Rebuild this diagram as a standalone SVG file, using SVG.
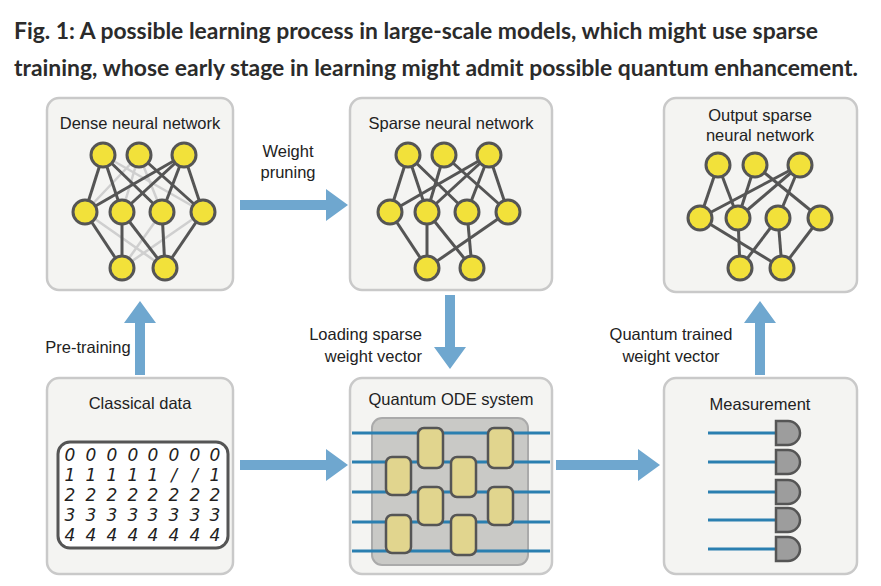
<svg xmlns="http://www.w3.org/2000/svg" width="881" height="586" viewBox="0 0 881 586">
<style>
.box{fill:#f4f4f2;stroke:#c9c9c9;stroke-width:2.5}
.lbl{font-family:"Liberation Sans",Arial,sans-serif;font-size:16.5px;fill:#222}
.t{font-family:Lato,"Liberation Sans",sans-serif;font-weight:bold;font-size:22.5px;fill:#2b2b2b}
.n{fill:#f2e13a;stroke:#555;stroke-width:3}
.e{stroke:#555;stroke-width:3}
.l{stroke:#cfcfcf;stroke-width:2.5}
.w{stroke:#2a7fb0;stroke-width:3}
.g{fill:#e1d58e;stroke:#555;stroke-width:2.5}
.m{fill:#9d9d9d;stroke:#555;stroke-width:2.5}
.d{font-family:"DejaVu Sans",sans-serif;font-size:17px;fill:#222;font-style:italic}
.arr{fill:#6fa7cf}
</style>
<rect width="881" height="586" fill="#fff"/>
<text class="t" x="14" y="39" textLength="804" lengthAdjust="spacingAndGlyphs">Fig. 1: A possible learning process in large-scale models, which might use sparse</text>
<text class="t" x="14" y="76" textLength="844" lengthAdjust="spacingAndGlyphs">training, whose early stage in learning might admit possible quantum enhancement.</text>
<g id="connectors">
<path class="arr" d="M240 200h86v-11l22 16-22 16v-11h-86z"/>
<path class="arr" d="M240 460h86v-11l22 16-22 16v-11h-86z"/>
<path class="arr" d="M556 460h82v-11l22 16-22 16v-11h-82z"/>
<path class="arr" d="M135 375v-52h-11l16-22 16 22h-11v52z"/>
<path class="arr" d="M755 375v-52h-11l16-22 16 22h-11v52z"/>
<path class="arr" d="M445 295v52h-11l16 22 16-22h-11v-52z"/>
<text class="lbl" x="288" y="157" text-anchor="middle">Weight</text>
<text class="lbl" x="288" y="178" text-anchor="middle">pruning</text>
<text class="lbl" x="88" y="353" text-anchor="middle">Pre-training</text>
<text class="lbl" x="422" y="340" text-anchor="end">Loading sparse</text>
<text class="lbl" x="422" y="362" text-anchor="end">weight vector</text>
<text class="lbl" x="671" y="340" text-anchor="middle">Quantum trained</text>
<text class="lbl" x="671" y="362" text-anchor="middle">weight vector</text>
</g>
<g id="dense">
<rect class="box" x="47" y="98" width="186" height="192" rx="12"/>
<text class="lbl" x="140" y="129" text-anchor="middle">Dense neural network</text>
<g class="l">
<line x1="139" y1="155" x2="85" y2="212"/><line x1="139" y1="155" x2="162" y2="212"/><line x1="103" y1="155" x2="203" y2="212"/><line x1="184" y1="155" x2="122" y2="212"/><line x1="139" y1="155" x2="122" y2="212"/>
<line x1="85" y1="212" x2="165" y2="268"/><line x1="203" y1="212" x2="122" y2="268"/><line x1="162" y1="212" x2="122" y2="268"/>
</g>
<g class="e">
<line x1="103" y1="155" x2="85" y2="212"/><line x1="103" y1="155" x2="122" y2="212"/><line x1="103" y1="155" x2="162" y2="212"/>
<line x1="139" y1="155" x2="203" y2="212"/><line x1="184" y1="155" x2="85" y2="212"/><line x1="184" y1="155" x2="122" y2="212"/><line x1="184" y1="155" x2="162" y2="212"/><line x1="184" y1="155" x2="203" y2="212"/>
<line x1="85" y1="212" x2="122" y2="268"/><line x1="122" y1="212" x2="122" y2="268"/><line x1="122" y1="212" x2="165" y2="268"/><line x1="162" y1="212" x2="165" y2="268"/><line x1="203" y1="212" x2="165" y2="268"/>
</g>
<circle class="n" cx="103" cy="155" r="12"/><circle class="n" cx="139" cy="155" r="12"/><circle class="n" cx="184" cy="155" r="12"/>
<circle class="n" cx="85" cy="212" r="12"/><circle class="n" cx="122" cy="212" r="12"/><circle class="n" cx="162" cy="212" r="12"/><circle class="n" cx="203" cy="212" r="12"/>
<circle class="n" cx="122" cy="268" r="12"/><circle class="n" cx="165" cy="268" r="12"/>
</g>
<g id="sparse">
<rect class="box" x="350" y="98" width="202" height="192" rx="12"/>
<text class="lbl" x="451" y="129" text-anchor="middle">Sparse neural network</text>
<g class="e">
<line x1="408" y1="155" x2="390" y2="212"/><line x1="408" y1="155" x2="427" y2="212"/><line x1="408" y1="155" x2="467" y2="212"/>
<line x1="444" y1="155" x2="427" y2="212"/>
<line x1="489" y1="155" x2="390" y2="212"/><line x1="489" y1="155" x2="427" y2="212"/><line x1="489" y1="155" x2="467" y2="212"/><line x1="489" y1="155" x2="508" y2="212"/><line x1="444" y1="155" x2="508" y2="212"/>
<line x1="390" y1="212" x2="427" y2="268"/><line x1="427" y1="212" x2="427" y2="268"/><line x1="427" y1="212" x2="472" y2="268"/><line x1="467" y1="212" x2="472" y2="268"/><line x1="508" y1="212" x2="427" y2="268"/>
</g>
<circle class="n" cx="408" cy="155" r="12"/><circle class="n" cx="444" cy="155" r="12"/><circle class="n" cx="489" cy="155" r="12"/>
<circle class="n" cx="390" cy="212" r="12"/><circle class="n" cx="427" cy="212" r="12"/><circle class="n" cx="467" cy="212" r="12"/><circle class="n" cx="508" cy="212" r="12"/>
<circle class="n" cx="427" cy="268" r="12"/><circle class="n" cx="472" cy="268" r="12"/>
</g>
<g id="output">
<rect class="box" x="664" y="98" width="193" height="194" rx="12"/>
<text class="lbl" x="760" y="121" text-anchor="middle">Output sparse</text>
<text class="lbl" x="760" y="141" text-anchor="middle">neural network</text>
<g class="e">
<line x1="718" y1="165" x2="700" y2="218"/><line x1="718" y1="165" x2="738" y2="218"/>
<line x1="755" y1="165" x2="738" y2="218"/><line x1="755" y1="165" x2="820" y2="218"/>
<line x1="800" y1="165" x2="700" y2="218"/><line x1="800" y1="165" x2="738" y2="218"/><line x1="800" y1="165" x2="778" y2="218"/>
<line x1="700" y1="218" x2="782" y2="268"/><line x1="738" y1="218" x2="740" y2="268"/><line x1="778" y1="218" x2="740" y2="268"/><line x1="778" y1="218" x2="782" y2="268"/><line x1="820" y1="218" x2="782" y2="268"/>
</g>
<circle class="n" cx="718" cy="165" r="12"/><circle class="n" cx="755" cy="165" r="12"/><circle class="n" cx="800" cy="165" r="12"/>
<circle class="n" cx="700" cy="218" r="12"/><circle class="n" cx="738" cy="218" r="12"/><circle class="n" cx="778" cy="218" r="12"/><circle class="n" cx="820" cy="218" r="12"/>
<circle class="n" cx="740" cy="268" r="12"/><circle class="n" cx="782" cy="268" r="12"/>
</g>
<g id="classical">
<rect class="box" x="47" y="378" width="186" height="196" rx="12"/>
<text class="lbl" x="140" y="409" text-anchor="middle">Classical data</text>
<rect x="58" y="442" width="170" height="106" rx="12" fill="#fff" stroke="#555" stroke-width="3"/>
<g class="d" text-anchor="middle">
<text y="461"><tspan x="70">0</tspan><tspan x="91">0</tspan><tspan x="112">0</tspan><tspan x="133">0</tspan><tspan x="153">0</tspan><tspan x="174">0</tspan><tspan x="195">0</tspan><tspan x="215">0</tspan></text>
<text y="481"><tspan x="70">1</tspan><tspan x="91">1</tspan><tspan x="112">1</tspan><tspan x="133">1</tspan><tspan x="153">1</tspan><tspan x="174">/</tspan><tspan x="195">/</tspan><tspan x="215">1</tspan></text>
<text y="501"><tspan x="70">2</tspan><tspan x="91">2</tspan><tspan x="112">2</tspan><tspan x="133">2</tspan><tspan x="153">2</tspan><tspan x="174">2</tspan><tspan x="195">2</tspan><tspan x="215">2</tspan></text>
<text y="521"><tspan x="70">3</tspan><tspan x="91">3</tspan><tspan x="112">3</tspan><tspan x="133">3</tspan><tspan x="153">3</tspan><tspan x="174">3</tspan><tspan x="195">3</tspan><tspan x="215">3</tspan></text>
<text y="541"><tspan x="70">4</tspan><tspan x="91">4</tspan><tspan x="112">4</tspan><tspan x="133">4</tspan><tspan x="153">4</tspan><tspan x="174">4</tspan><tspan x="195">4</tspan><tspan x="215">4</tspan></text>
</g>
</g>
<g id="quantum">
<rect class="box" x="350" y="378" width="202" height="196" rx="12"/>
<text class="lbl" x="451" y="405" text-anchor="middle">Quantum ODE system</text>
<rect x="372" y="418" width="156" height="147" rx="10" fill="#c9c9c6" stroke="#aaa" stroke-width="2"/>
<g class="w">
<line x1="352" y1="433" x2="550" y2="433"/><line x1="352" y1="462" x2="550" y2="462"/><line x1="352" y1="492" x2="550" y2="492"/><line x1="352" y1="522" x2="550" y2="522"/><line x1="352" y1="551" x2="550" y2="551"/>
</g>
<rect class="g" x="386" y="457" width="25" height="38" rx="6"/>
<rect class="g" x="386" y="515" width="25" height="38" rx="6"/>
<rect class="g" x="418" y="428" width="25" height="40" rx="6"/>
<rect class="g" x="418" y="487" width="25" height="38" rx="6"/>
<rect class="g" x="451" y="457" width="25" height="40" rx="6"/>
<rect class="g" x="451" y="515" width="25" height="40" rx="6"/>
<rect class="g" x="488" y="428" width="25" height="40" rx="6"/>
<rect class="g" x="488" y="487" width="25" height="38" rx="6"/>
</g>
<g id="measurement">
<rect class="box" x="664" y="378" width="193" height="196" rx="12"/>
<text class="lbl" x="760" y="410" text-anchor="middle">Measurement</text>
<g class="w">
<line x1="708" y1="433" x2="776" y2="433"/><line x1="708" y1="462" x2="776" y2="462"/><line x1="708" y1="492" x2="776" y2="492"/><line x1="708" y1="520" x2="776" y2="520"/><line x1="708" y1="549" x2="776" y2="549"/>
</g>
<path class="m" d="M776 421h12a12 12 0 0 1 0 24h-12z"/>
<path class="m" d="M776 450h12a12 12 0 0 1 0 24h-12z"/>
<path class="m" d="M776 480h12a12 12 0 0 1 0 24h-12z"/>
<path class="m" d="M776 508h12a12 12 0 0 1 0 24h-12z"/>
<path class="m" d="M776 537h12a12 12 0 0 1 0 24h-12z"/>
</g>
</svg>
